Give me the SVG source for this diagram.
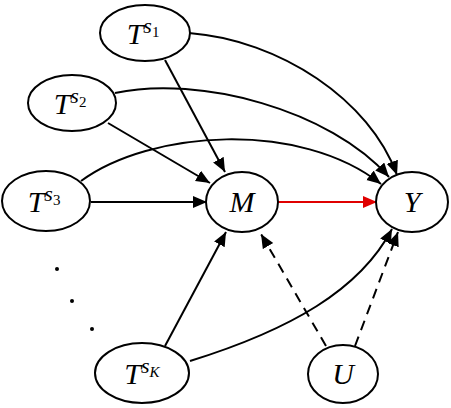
<svg xmlns="http://www.w3.org/2000/svg" width="451" height="408" viewBox="0 0 451 408">
<style>
.n ellipse{fill:#fff;stroke:#000;stroke-width:2}
.n text{font-family:"Liberation Serif",serif;font-size:30px;font-style:italic;text-anchor:middle}
.sup{font-size:22px}
.sub{font-size:15px;font-style:normal}
.e{fill:none;stroke:#000;stroke-width:2}
.d{stroke-dasharray:10,7}
.r{stroke:#e00000}
</style>
<defs>
<marker id="a" markerUnits="userSpaceOnUse" markerWidth="16" markerHeight="13" refX="14" refY="6" orient="auto"><path d="M0,0 L14,6 L0,12 Z" fill="#000"/></marker>
<marker id="ar" markerUnits="userSpaceOnUse" markerWidth="16" markerHeight="13" refX="14" refY="6" orient="auto"><path d="M0,0 L14,6 L0,12 Z" fill="#e00000"/></marker>
</defs>
<g id="edges">
<path class="e" d="M165,60 L225,172" marker-end="url(#a)"/>
<path class="e" d="M108,123 L210,183" marker-end="url(#a)"/>
<path class="e" d="M91,202 L207,202" marker-end="url(#a)"/>
<path class="e" d="M165,346 L226,232" marker-end="url(#a)"/>
<path class="e r" d="M278,202 L377,202" marker-end="url(#ar)"/>
<path class="e" d="M189,33 C280,40 370,100 397,175" marker-end="url(#a)"/>
<path class="e" d="M115,93 C200,75 330,110 389,177" marker-end="url(#a)"/>
<path class="e" d="M81,181 C150,130 300,120 381,184" marker-end="url(#a)"/>
<path class="e" d="M190,361 C290,330 360,290 392,229" marker-end="url(#a)"/>
<path class="e d" d="M326,346 L261,234" marker-end="url(#a)"/>
<path class="e d" d="M355,346 L398,232" marker-end="url(#a)"/>
</g>
<g id="T1" class="n"><ellipse cx="145" cy="33" rx="45" ry="28"/><text x="143" y="44">T<tspan class="sup" dy="-11">s</tspan><tspan class="sub" dy="4">1</tspan></text></g>
<g id="T2" class="n"><ellipse cx="72" cy="103" rx="44" ry="28"/><text x="70" y="114">T<tspan class="sup" dy="-11">s</tspan><tspan class="sub" dy="4">2</tspan></text></g>
<g id="T3" class="n"><ellipse cx="46" cy="201" rx="44" ry="30"/><text x="44" y="212">T<tspan class="sup" dy="-11">s</tspan><tspan class="sub" dy="4">3</tspan></text></g>
<g id="TK" class="n"><ellipse cx="142" cy="373" rx="47" ry="30"/><text x="142" y="384">T<tspan class="sup" dy="-11">s</tspan><tspan class="sub" dy="4" style="font-style:italic">K</tspan></text></g>
<g id="M" class="n"><ellipse cx="242" cy="202" rx="36" ry="30"/><text x="242" y="212">M</text></g>
<g id="Y" class="n"><ellipse cx="412" cy="202" rx="36" ry="30"/><text x="412" y="212">Y</text></g>
<g id="U" class="n"><ellipse cx="343" cy="374" rx="35" ry="29"/><text x="343" y="384">U</text></g>
<g id="dots"><circle cx="57" cy="269" r="2"/><circle cx="72" cy="301" r="2"/><circle cx="92" cy="329" r="2"/></g>
</svg>
